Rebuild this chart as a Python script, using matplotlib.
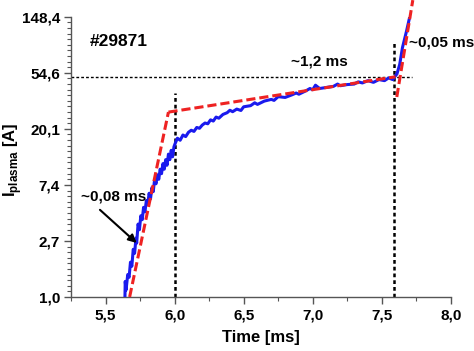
import numpy as np
import matplotlib
matplotlib.use("Agg")
import matplotlib.pyplot as plt
from matplotlib.ticker import FixedLocator, FixedFormatter

plt.rcParams["font.family"] = ["Liberation Sans", "DejaVu Sans"]
plt.rcParams["font.weight"] = "bold"
plt.rcParams["mathtext.fontset"] = "custom"
plt.rcParams["mathtext.rm"] = "Liberation Sans:bold"
plt.rcParams["mathtext.bf"] = "Liberation Sans:bold"

# measured plasma current (blue), time in ms, current in A
time_ms = [5.640, 5.642, 5.648, 5.660, 5.670, 5.680, 5.690, 5.700, 5.710, 5.720,
           5.725, 5.735, 5.745, 5.755, 5.765, 5.775, 5.785, 5.795, 5.805, 5.815,
           5.825, 5.835, 5.845, 5.855, 5.865, 5.875, 5.885, 5.895, 5.905, 5.915,
           5.925, 5.935, 5.945, 5.955, 5.965, 5.975, 5.985, 5.995, 6.005, 6.02,
           6.04, 6.06, 6.08, 6.10, 6.12, 6.14, 6.16, 6.18, 6.20, 6.22,
           6.24, 6.26, 6.28, 6.30, 6.32, 6.35, 6.38, 6.40, 6.42, 6.45,
           6.48, 6.50, 6.55, 6.58, 6.60, 6.65, 6.70, 6.72, 6.75, 6.80,
           6.85, 6.88, 6.90, 6.95, 6.98, 7.00, 7.02, 7.05, 7.10, 7.15,
           7.18, 7.20, 7.25, 7.30, 7.33, 7.36, 7.40, 7.44, 7.48, 7.52,
           7.55, 7.58, 7.60, 7.61, 7.63, 7.65, 7.68, 7.70]
current_a = [1.0, 1.32, 1.13, 1.49, 1.42, 1.86, 1.73, 2.34, 2.18, 2.86,
             2.61, 3.67, 3.32, 4.26, 3.97, 4.95, 4.57, 5.58, 5.21, 6.36,
             5.75, 7.03, 6.55, 8.17, 7.54, 8.85, 8.17, 9.78, 9.03, 10.8,
             9.78, 11.6, 10.5, 12.8, 11.6, 13.7, 12.2, 14.6, 15.6, 17.0,
             16.4, 18.0, 17.5, 18.9, 19.6, 19.2, 20.6, 20.3, 21.5, 22.3,
             22.0, 23.6, 23.1, 24.8, 24.3, 26.0, 26.8, 28.0, 27.3, 28.6,
             27.9, 29.8, 30.4, 32.0, 31.1, 33.0, 34.0, 33.4, 35.7, 35.2,
             36.9, 38.1, 37.3, 39.6, 41.3, 40.4, 43.8, 41.3, 42.1, 42.9,
             44.7, 43.4, 44.3, 44.7, 46.5, 45.6, 47.5, 46.1, 48.4, 47.5,
             49.9, 48.4, 51.9, 53.5, 63.4, 85.6, 115.6, 144.0]

# exponential fits (red dashed), three segments
fit1_t = [5.674, 5.955]
fit1_i = [1.0, 27.1]
fit2_t = [5.955, 7.60]
fit2_i = [27.1, 50.9]
fit3_t = [7.609, 7.725]
fit3_i = [35.5, 200.0]

# guide lines
vline_t = [6.0, 7.59]
vline_top = [38.1, 93.7]
hline_i = 51.0
hline_tmax = 7.72
arrow_tip = (5.725, 2.62)

ytick_vals = [1.0, 2.718, 7.389, 20.09, 54.6, 148.4]
ytick_labels = ["1,0", "2,7", "7,4", "20,1", "54,6", "148,4"]
xtick_vals = [5.5, 6.0, 6.5, 7.0, 7.5, 8.0]
xtick_labels = ["5,5", "6,0", "6,5", "7,0", "7,5", "8,0"]

fig = plt.figure(figsize=(4.74, 3.51), dpi=100)
ax = fig.add_axes([0.150, 0.154, 0.801, 0.798])
ax.set_yscale("log", base=np.e)

ax.plot([5.25, hline_tmax], [hline_i, hline_i], color="black", lw=1.0,
        linestyle=(0, (2, 1.5)), zorder=1)
for t, top in zip(vline_t, vline_top):
    ax.plot([t, t], [1.0, top], color="black", lw=1.8,
            linestyle=(0, (1.5, 1.2)), zorder=1)

ax.plot(time_ms, current_a, color="#1a1aee", lw=2.2, zorder=3)
for ft, fi in [(fit1_t, fit1_i), (fit2_t, fit2_i), (fit3_t, fit3_i)]:
    ax.plot(ft, fi, color="#ee2222", lw=2.2, linestyle=(0, (3, 1.3)),
            zorder=4, clip_on=False)

ax.set_xlim(5.25, 8.0)
ax.set_ylim(1.0, 148.4)

ax.xaxis.set_major_locator(FixedLocator(xtick_vals))
ax.xaxis.set_major_formatter(FixedFormatter(xtick_labels))
ax.xaxis.set_minor_locator(FixedLocator([5.25, 5.75, 6.25, 6.75, 7.25, 7.75]))
ax.yaxis.set_major_locator(FixedLocator(ytick_vals))
ax.yaxis.set_major_formatter(FixedFormatter(ytick_labels))
minor_y = [np.exp(k + i / 10) for k in range(5) for i in range(1, 10)]
ax.yaxis.set_minor_locator(FixedLocator(minor_y))
ax.yaxis.set_minor_formatter(FixedFormatter([""] * len(minor_y)))

for side in ("top", "right"):
    ax.spines[side].set_visible(False)
for side in ("left", "bottom"):
    ax.spines[side].set_color("#555555")
    ax.spines[side].set_linewidth(1.0)
ax.tick_params(which="major", length=5, width=1.0, color="#555555",
               labelsize=11, pad=3)
ax.tick_params(which="minor", length=3, width=0.8, color="#555555")

ax.set_xlabel("Time [ms]", fontsize=12, fontweight="bold", labelpad=6)
ax.set_ylabel(r"$\mathbf{I}_{\mathbf{plasma}}$ [A]", fontsize=12,
              fontweight="bold")
ax.yaxis.set_label_coords(-0.125, 0.49)

ax.text(0.126, 0.911, "#29871", transform=ax.transAxes, ha="center",
        va="center", fontsize=12.5, fontweight="bold")
ax.text(0.655, 0.839, "~1,2 ms", transform=ax.transAxes, ha="center",
        va="center", fontsize=11, fontweight="bold")
ax.text(0.890, 0.907, "~0,05 ms", transform=ax.transAxes, ha="left",
        va="center", fontsize=11, fontweight="bold", clip_on=False)
ax.text(0.113, 0.357, "~0,08 ms", transform=ax.transAxes, ha="center",
        va="center", fontsize=11, fontweight="bold")
ax.annotate("", xy=arrow_tip, xycoords="data", xytext=(0.076, 0.311),
            textcoords="axes fraction",
            arrowprops=dict(arrowstyle="-|>", color="black", lw=1.5,
                            mutation_scale=12, shrinkA=0, shrinkB=0),
            zorder=5)

fig.savefig("out.png", dpi=100)
